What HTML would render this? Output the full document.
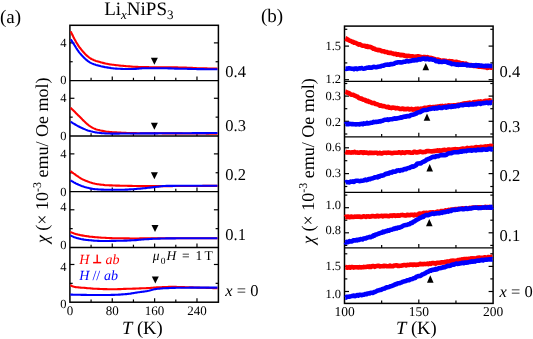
<!DOCTYPE html>
<html><head><meta charset="utf-8"><title>LixNiPS3</title><style>
html,body{margin:0;padding:0;background:#fff;width:533px;height:339px;overflow:hidden;}
svg{display:block;will-change:transform;}
text{font-family:"Liberation Serif",serif;fill:#000;text-rendering:geometricPrecision;}
</style></head><body>
<svg width="533" height="339" viewBox="0 0 533 339">
<rect x="69.90" y="25.30" width="148.50" height="276.90" fill="none" stroke="#000" stroke-width="1.5"/>
<line x1="69.90" y1="80.60" x2="218.40" y2="80.60" stroke="#000" stroke-width="1.3"/>
<line x1="69.90" y1="136.00" x2="218.40" y2="136.00" stroke="#000" stroke-width="1.3"/>
<line x1="69.90" y1="191.60" x2="218.40" y2="191.60" stroke="#000" stroke-width="1.3"/>
<line x1="69.90" y1="247.50" x2="218.40" y2="247.50" stroke="#000" stroke-width="1.3"/>
<line x1="91.08" y1="80.60" x2="91.08" y2="77.80" stroke="#000" stroke-width="1.2"/>
<line x1="112.26" y1="80.60" x2="112.26" y2="76.60" stroke="#000" stroke-width="1.2"/>
<line x1="133.44" y1="80.60" x2="133.44" y2="77.80" stroke="#000" stroke-width="1.2"/>
<line x1="154.62" y1="80.60" x2="154.62" y2="76.60" stroke="#000" stroke-width="1.2"/>
<line x1="175.80" y1="80.60" x2="175.80" y2="77.80" stroke="#000" stroke-width="1.2"/>
<line x1="196.98" y1="80.60" x2="196.98" y2="76.60" stroke="#000" stroke-width="1.2"/>
<line x1="69.90" y1="61.74" x2="72.70" y2="61.74" stroke="#000" stroke-width="1.2"/>
<line x1="218.40" y1="61.74" x2="215.60" y2="61.74" stroke="#000" stroke-width="1.2"/>
<line x1="69.90" y1="42.88" x2="74.40" y2="42.88" stroke="#000" stroke-width="1.2"/>
<line x1="218.40" y1="42.88" x2="213.90" y2="42.88" stroke="#000" stroke-width="1.2"/>
<line x1="91.08" y1="136.00" x2="91.08" y2="133.20" stroke="#000" stroke-width="1.2"/>
<line x1="112.26" y1="136.00" x2="112.26" y2="132.00" stroke="#000" stroke-width="1.2"/>
<line x1="133.44" y1="136.00" x2="133.44" y2="133.20" stroke="#000" stroke-width="1.2"/>
<line x1="154.62" y1="136.00" x2="154.62" y2="132.00" stroke="#000" stroke-width="1.2"/>
<line x1="175.80" y1="136.00" x2="175.80" y2="133.20" stroke="#000" stroke-width="1.2"/>
<line x1="196.98" y1="136.00" x2="196.98" y2="132.00" stroke="#000" stroke-width="1.2"/>
<line x1="69.90" y1="117.14" x2="72.70" y2="117.14" stroke="#000" stroke-width="1.2"/>
<line x1="218.40" y1="117.14" x2="215.60" y2="117.14" stroke="#000" stroke-width="1.2"/>
<line x1="69.90" y1="98.28" x2="74.40" y2="98.28" stroke="#000" stroke-width="1.2"/>
<line x1="218.40" y1="98.28" x2="213.90" y2="98.28" stroke="#000" stroke-width="1.2"/>
<line x1="91.08" y1="191.60" x2="91.08" y2="188.80" stroke="#000" stroke-width="1.2"/>
<line x1="112.26" y1="191.60" x2="112.26" y2="187.60" stroke="#000" stroke-width="1.2"/>
<line x1="133.44" y1="191.60" x2="133.44" y2="188.80" stroke="#000" stroke-width="1.2"/>
<line x1="154.62" y1="191.60" x2="154.62" y2="187.60" stroke="#000" stroke-width="1.2"/>
<line x1="175.80" y1="191.60" x2="175.80" y2="188.80" stroke="#000" stroke-width="1.2"/>
<line x1="196.98" y1="191.60" x2="196.98" y2="187.60" stroke="#000" stroke-width="1.2"/>
<line x1="69.90" y1="172.74" x2="72.70" y2="172.74" stroke="#000" stroke-width="1.2"/>
<line x1="218.40" y1="172.74" x2="215.60" y2="172.74" stroke="#000" stroke-width="1.2"/>
<line x1="69.90" y1="153.88" x2="74.40" y2="153.88" stroke="#000" stroke-width="1.2"/>
<line x1="218.40" y1="153.88" x2="213.90" y2="153.88" stroke="#000" stroke-width="1.2"/>
<line x1="91.08" y1="247.50" x2="91.08" y2="244.70" stroke="#000" stroke-width="1.2"/>
<line x1="112.26" y1="247.50" x2="112.26" y2="243.50" stroke="#000" stroke-width="1.2"/>
<line x1="133.44" y1="247.50" x2="133.44" y2="244.70" stroke="#000" stroke-width="1.2"/>
<line x1="154.62" y1="247.50" x2="154.62" y2="243.50" stroke="#000" stroke-width="1.2"/>
<line x1="175.80" y1="247.50" x2="175.80" y2="244.70" stroke="#000" stroke-width="1.2"/>
<line x1="196.98" y1="247.50" x2="196.98" y2="243.50" stroke="#000" stroke-width="1.2"/>
<line x1="69.90" y1="228.64" x2="72.70" y2="228.64" stroke="#000" stroke-width="1.2"/>
<line x1="218.40" y1="228.64" x2="215.60" y2="228.64" stroke="#000" stroke-width="1.2"/>
<line x1="69.90" y1="209.78" x2="74.40" y2="209.78" stroke="#000" stroke-width="1.2"/>
<line x1="218.40" y1="209.78" x2="213.90" y2="209.78" stroke="#000" stroke-width="1.2"/>
<line x1="91.08" y1="302.20" x2="91.08" y2="299.40" stroke="#000" stroke-width="1.2"/>
<line x1="112.26" y1="302.20" x2="112.26" y2="298.20" stroke="#000" stroke-width="1.2"/>
<line x1="133.44" y1="302.20" x2="133.44" y2="299.40" stroke="#000" stroke-width="1.2"/>
<line x1="154.62" y1="302.20" x2="154.62" y2="298.20" stroke="#000" stroke-width="1.2"/>
<line x1="175.80" y1="302.20" x2="175.80" y2="299.40" stroke="#000" stroke-width="1.2"/>
<line x1="196.98" y1="302.20" x2="196.98" y2="298.20" stroke="#000" stroke-width="1.2"/>
<line x1="69.90" y1="283.34" x2="72.70" y2="283.34" stroke="#000" stroke-width="1.2"/>
<line x1="218.40" y1="283.34" x2="215.60" y2="283.34" stroke="#000" stroke-width="1.2"/>
<line x1="69.90" y1="264.48" x2="74.40" y2="264.48" stroke="#000" stroke-width="1.2"/>
<line x1="218.40" y1="264.48" x2="213.90" y2="264.48" stroke="#000" stroke-width="1.2"/>
<polyline points="70.7,31.4 71.0,32.0 71.3,32.7 71.8,33.6 72.2,34.6 72.8,35.6 73.3,36.7 73.8,37.7 74.3,38.7 74.8,39.6 75.4,40.6 75.9,41.6 76.4,42.6 77.0,43.5 77.6,44.4 78.2,45.4 78.8,46.3 79.4,47.2 80.1,48.0 80.8,48.9 81.5,49.8 82.2,50.7 82.9,51.5 83.6,52.3 84.3,53.1 85.1,53.9 85.9,54.7 86.6,55.4 87.4,56.1 88.2,56.7 88.9,57.3 89.7,57.9 90.6,58.5 91.4,59.0 92.3,59.4 93.2,59.8 94.1,60.2 95.1,60.6 96.0,60.9 97.0,61.2 98.0,61.5 99.0,61.8 100.0,62.1 101.0,62.4 101.9,62.6 102.9,62.9 104.0,63.1 105.0,63.4 105.9,63.6 107.0,63.8 108.0,64.0 109.1,64.2 110.1,64.4 111.2,64.5 112.3,64.7 113.5,64.8 114.8,65.0 115.7,65.1 116.7,65.2 117.8,65.3 118.9,65.5 120.0,65.6 121.1,65.7 122.2,65.8 123.4,65.9 124.5,66.0 125.5,66.1 126.6,66.2 127.6,66.3 128.7,66.4 129.7,66.4 130.8,66.5 131.9,66.6 132.9,66.7 134.0,66.7 135.0,66.8 136.0,66.9 136.9,66.9 137.7,66.9 138.6,67.0 139.4,67.0 140.3,67.0 141.3,67.0 142.4,67.1 143.6,67.1 145.0,67.1 145.8,67.1 146.6,67.1 147.5,67.1 148.4,67.1 149.3,67.2 150.3,67.2 151.3,67.2 152.3,67.2 153.3,67.2 154.4,67.2 155.4,67.2 156.5,67.2 157.6,67.2 158.7,67.2 159.8,67.2 160.8,67.3 161.9,67.3 163.0,67.3 164.0,67.3 165.0,67.3 166.0,67.3 167.0,67.3 168.0,67.3 169.1,67.3 170.1,67.4 171.2,67.4 172.2,67.4 173.2,67.4 174.3,67.4 175.3,67.4 176.3,67.4 177.4,67.4 178.4,67.5 179.4,67.5 180.4,67.5 181.3,67.5 182.3,67.5 183.2,67.6 184.1,67.6 185.0,67.6 186.1,67.6 187.2,67.7 188.3,67.7 189.3,67.8 190.3,67.8 191.2,67.9 192.2,67.9 193.1,68.0 194.1,68.0 195.0,68.1 196.0,68.1 196.9,68.2 197.9,68.2 198.9,68.3 200.0,68.3 201.0,68.3 202.1,68.4 203.2,68.4 204.3,68.4 205.5,68.4 206.7,68.4 207.9,68.5 209.1,68.5 210.3,68.5 211.4,68.5 212.5,68.5 213.6,68.5 214.5,68.6 215.4,68.6 216.2,68.6 216.9,68.6 217.5,68.6" fill="none" stroke="#ff0000" stroke-width="2.1" stroke-linejoin="round" stroke-linecap="butt"/>
<polyline points="70.7,39.3 71.1,39.9 71.6,40.7 72.2,41.6 72.8,42.6 73.5,43.7 74.2,44.7 74.8,45.7 75.4,46.6 75.9,47.5 76.4,48.3 77.0,49.2 77.6,50.1 78.2,50.9 78.8,51.8 79.4,52.6 80.1,53.4 80.8,54.2 81.5,55.0 82.2,55.7 82.9,56.5 83.6,57.2 84.3,57.9 85.2,58.8 86.1,59.6 87.0,60.3 87.9,61.1 88.8,61.7 89.7,62.3 90.8,62.9 91.8,63.4 92.8,63.8 93.9,64.2 95.1,64.6 96.0,64.9 97.0,65.2 98.0,65.4 99.0,65.7 100.0,65.9 101.0,66.2 101.9,66.4 102.9,66.6 104.0,66.9 105.0,67.1 105.9,67.2 107.0,67.4 108.0,67.6 109.1,67.8 110.1,67.9 111.2,68.1 112.3,68.2 113.5,68.4 114.8,68.5 115.7,68.6 116.7,68.6 117.8,68.7 118.9,68.8 120.0,68.8 121.1,68.9 122.2,68.9 123.4,69.0 124.5,69.0 125.5,69.0 126.6,69.0 127.6,69.0 128.7,69.0 129.7,69.0 130.8,69.0 131.9,69.0 132.9,69.0 134.0,68.9 135.0,68.9 136.0,68.9 136.9,68.8 137.7,68.7 138.6,68.6 139.4,68.5 140.3,68.5 141.3,68.4 142.4,68.3 143.6,68.2 145.0,68.2 145.8,68.2 146.6,68.2 147.5,68.2 148.4,68.2 149.4,68.2 150.4,68.2 151.5,68.2 152.5,68.2 153.6,68.2 154.7,68.2 155.8,68.2 156.9,68.2 158.0,68.2 159.1,68.2 160.1,68.2 161.2,68.2 162.2,68.3 163.2,68.3 164.1,68.3 165.0,68.3 166.1,68.3 167.2,68.3 168.2,68.4 169.2,68.4 170.2,68.4 171.1,68.4 172.0,68.5 173.0,68.5 173.9,68.5 174.8,68.6 175.8,68.6 176.8,68.6 177.8,68.6 178.9,68.7 180.0,68.7 180.9,68.7 181.8,68.7 182.8,68.8 183.7,68.8 184.7,68.8 185.7,68.8 186.7,68.8 187.8,68.9 188.8,68.9 189.8,68.9 190.9,68.9 191.9,69.0 193.0,69.0 194.0,69.0 195.1,69.0 196.1,69.0 197.1,69.1 198.1,69.1 199.1,69.1 200.0,69.1 201.1,69.1 202.3,69.1 203.5,69.1 204.7,69.2 205.9,69.2 207.1,69.2 208.3,69.2 209.4,69.2 210.6,69.2 211.7,69.2 212.7,69.3 213.7,69.3 214.6,69.3 215.5,69.3 216.3,69.3 216.9,69.3 217.5,69.3" fill="none" stroke="#0000ff" stroke-width="2.1" stroke-linejoin="round" stroke-linecap="butt"/>
<polyline points="70.6,107.7 71.1,108.2 71.8,108.9 72.6,109.7 73.4,110.5 74.2,111.3 75.0,112.1 75.8,112.9 76.6,113.7 77.4,114.5 78.3,115.4 79.0,116.1 79.7,116.8 80.5,117.6 81.2,118.3 82.0,119.1 82.7,119.9 83.5,120.6 84.2,121.3 85.0,122.0 85.7,122.7 86.5,123.4 87.2,124.1 88.0,124.7 88.7,125.3 89.7,126.0 90.7,126.7 91.8,127.3 92.8,127.9 93.8,128.4 94.8,128.8 95.7,129.2 96.6,129.5 97.7,129.8 99.0,130.1 99.8,130.3 100.7,130.5 101.6,130.7 102.6,130.9 103.6,131.1 104.6,131.3 105.7,131.5 106.8,131.7 108.0,131.8 108.9,131.9 109.7,132.0 110.6,132.1 111.5,132.1 112.4,132.2 113.3,132.3 114.3,132.3 115.3,132.4 116.4,132.4 117.5,132.5 118.7,132.5 120.0,132.6 120.8,132.6 121.4,132.7 122.0,132.7 122.6,132.7 123.1,132.8 123.6,132.8 124.1,132.8 124.7,132.9 125.3,132.9 125.9,132.9 126.6,133.0 127.5,133.0 128.4,133.0 129.5,133.0 130.8,133.1 132.2,133.1 133.8,133.1 135.6,133.1 137.7,133.2 140.0,133.2 140.6,133.2 141.3,133.2 142.0,133.2 142.8,133.2 143.6,133.2 144.4,133.2 145.2,133.2 146.0,133.3 146.9,133.3 147.8,133.3 148.7,133.3 149.7,133.3 150.6,133.3 151.6,133.3 152.7,133.3 153.7,133.3 154.7,133.3 155.8,133.3 156.9,133.3 158.0,133.3 159.1,133.3 160.2,133.3 161.4,133.3 162.5,133.4 163.7,133.4 164.8,133.4 166.0,133.4 167.2,133.4 168.4,133.4 169.6,133.4 170.8,133.4 172.0,133.4 173.3,133.4 174.5,133.4 175.7,133.4 176.9,133.4 178.2,133.4 179.4,133.4 180.6,133.4 181.8,133.4 183.1,133.5 184.3,133.5 185.5,133.5 186.7,133.5 187.9,133.5 189.1,133.5 190.3,133.5 191.4,133.5 192.6,133.5 193.8,133.5 194.9,133.5 196.0,133.5 197.1,133.5 198.2,133.5 199.3,133.5 200.4,133.5 201.4,133.5 202.5,133.5 203.5,133.5 204.5,133.5 205.5,133.5 206.4,133.6 207.3,133.6 208.3,133.6 209.1,133.6 210.0,133.6 210.8,133.6 211.6,133.6 212.4,133.6 213.1,133.6 213.9,133.6 214.6,133.6 215.2,133.6 215.8,133.6 216.4,133.6 217.0,133.6 217.5,133.6" fill="none" stroke="#ff0000" stroke-width="2.1" stroke-linejoin="round" stroke-linecap="butt"/>
<polyline points="70.6,121.6 71.2,122.0 72.1,122.6 73.2,123.3 74.2,123.9 75.2,124.5 76.2,125.1 77.2,125.7 78.3,126.3 79.3,126.8 80.3,127.3 81.4,127.8 82.4,128.2 83.5,128.7 84.5,129.1 85.6,129.6 86.6,130.0 87.7,130.4 88.7,130.7 89.7,131.0 90.7,131.3 91.8,131.5 92.8,131.8 93.8,132.0 94.8,132.2 95.7,132.4 96.6,132.5 97.7,132.7 99.0,132.8 99.8,132.9 100.5,133.0 101.2,133.1 102.0,133.2 102.9,133.2 103.9,133.3 105.1,133.4 106.4,133.5 108.0,133.5 108.7,133.5 109.3,133.5 109.8,133.5 110.3,133.5 110.8,133.6 111.3,133.6 111.8,133.6 112.3,133.6 112.8,133.6 113.4,133.6 114.1,133.6 114.8,133.6 115.7,133.6 116.6,133.6 117.7,133.6 118.9,133.6 120.3,133.5 121.8,133.5 123.6,133.5 125.5,133.5 127.6,133.5 130.0,133.5 130.6,133.5 131.3,133.5 132.0,133.5 132.7,133.5 133.5,133.5 134.3,133.5 135.1,133.5 135.9,133.5 136.7,133.5 137.6,133.5 138.5,133.5 139.4,133.5 140.4,133.4 141.3,133.4 142.3,133.4 143.3,133.4 144.3,133.4 145.3,133.4 146.4,133.4 147.4,133.4 148.5,133.4 149.6,133.4 150.7,133.4 151.8,133.4 152.9,133.4 154.1,133.4 155.2,133.4 156.4,133.4 157.6,133.4 158.7,133.3 159.9,133.3 161.1,133.3 162.3,133.3 163.5,133.3 164.7,133.3 165.9,133.3 167.2,133.3 168.4,133.3 169.6,133.3 170.8,133.3 172.1,133.3 173.3,133.3 174.5,133.3 175.7,133.2 177.0,133.2 178.2,133.2 179.4,133.2 180.6,133.2 181.8,133.2 183.0,133.2 184.2,133.2 185.4,133.2 186.6,133.2 187.8,133.2 188.9,133.2 190.1,133.2 191.3,133.2 192.4,133.1 193.5,133.1 194.6,133.1 195.7,133.1 196.8,133.1 197.9,133.1 198.9,133.1 200.0,133.1 201.0,133.1 202.0,133.1 203.0,133.1 204.0,133.1 204.9,133.1 205.9,133.1 206.8,133.1 207.7,133.1 208.5,133.1 209.4,133.0 210.2,133.0 211.0,133.0 211.8,133.0 212.5,133.0 213.2,133.0 213.9,133.0 214.6,133.0 215.2,133.0 215.9,133.0 216.4,133.0 217.0,133.0 217.5,133.0" fill="none" stroke="#0000ff" stroke-width="2.1" stroke-linejoin="round" stroke-linecap="butt"/>
<polyline points="70.5,171.2 71.1,171.6 71.8,172.2 72.8,172.8 73.7,173.5 74.6,174.1 75.4,174.7 76.2,175.3 77.1,175.9 77.9,176.4 78.7,177.0 79.7,177.7 80.7,178.3 81.7,178.9 82.9,179.5 83.8,179.9 84.7,180.3 85.7,180.7 86.6,181.1 87.7,181.5 88.7,181.9 89.7,182.3 90.8,182.6 91.9,182.9 93.0,183.3 94.1,183.5 95.3,183.8 96.3,184.0 97.4,184.2 98.5,184.3 99.6,184.5 100.7,184.6 101.7,184.7 102.7,184.8 103.6,184.9 104.2,185.0 104.8,185.1 105.9,185.2 108.0,185.3 108.7,185.3 109.4,185.4 110.2,185.4 111.0,185.4 111.9,185.4 112.8,185.5 113.8,185.5 114.9,185.5 115.9,185.6 117.0,185.6 118.1,185.6 119.2,185.6 120.3,185.7 121.4,185.7 122.6,185.7 123.7,185.8 124.8,185.8 125.9,185.8 127.0,185.8 128.0,185.9 129.0,185.9 130.0,185.9 131.0,185.9 131.9,185.9 132.7,186.0 133.4,186.0 134.0,186.0 134.7,186.0 135.3,186.0 135.9,186.0 136.5,186.0 137.2,186.0 137.9,186.1 138.7,186.1 139.6,186.1 140.6,186.1 141.7,186.1 143.0,186.1 144.4,186.1 146.1,186.1 147.9,186.1 150.0,186.1 150.7,186.1 151.4,186.1 152.1,186.1 152.9,186.1 153.7,186.1 154.5,186.1 155.4,186.1 156.3,186.1 157.2,186.1 158.1,186.1 159.1,186.1 160.1,186.1 161.1,186.1 162.2,186.1 163.2,186.1 164.3,186.1 165.4,186.1 166.5,186.1 167.6,186.1 168.8,186.1 169.9,186.1 171.1,186.1 172.3,186.1 173.5,186.0 174.6,186.0 175.9,186.0 177.1,186.0 178.3,186.0 179.5,186.0 180.7,186.0 181.9,186.0 183.2,186.0 184.4,186.0 185.6,186.0 186.8,186.0 188.0,186.0 189.3,186.0 190.5,186.0 191.7,186.0 192.8,186.0 194.0,186.0 195.2,186.0 196.3,186.0 197.5,186.0 198.6,186.0 199.7,186.0 200.8,186.0 201.9,186.0 203.0,185.9 204.0,185.9 205.0,185.9 206.0,185.9 207.0,185.9 207.9,185.9 208.9,185.9 209.8,185.9 210.6,185.9 211.5,185.9 212.3,185.9 213.0,185.9 213.8,185.9 214.5,185.9 215.2,185.9 215.8,185.9 216.4,185.9 217.0,185.9 217.5,185.9" fill="none" stroke="#ff0000" stroke-width="2.1" stroke-linejoin="round" stroke-linecap="butt"/>
<polyline points="70.5,180.3 71.2,180.8 72.3,181.4 73.5,182.2 74.6,182.8 75.6,183.3 76.5,183.8 77.6,184.3 78.7,184.8 79.6,185.1 80.5,185.5 81.4,185.9 82.4,186.2 83.5,186.6 84.5,186.9 85.6,187.2 86.6,187.5 87.7,187.8 88.9,188.1 90.0,188.4 91.1,188.6 92.2,188.8 93.2,189.0 94.2,189.1 95.3,189.2 96.5,189.3 97.8,189.4 98.6,189.5 99.5,189.5 100.3,189.5 101.2,189.6 102.2,189.6 103.2,189.6 104.2,189.7 105.4,189.7 106.6,189.7 108.0,189.7 108.8,189.7 109.7,189.7 110.6,189.7 111.6,189.7 112.6,189.7 113.6,189.7 114.6,189.7 115.7,189.7 116.8,189.7 117.9,189.7 119.0,189.7 120.1,189.7 121.2,189.7 122.2,189.7 123.3,189.7 124.4,189.7 125.4,189.6 126.4,189.6 127.4,189.6 128.5,189.5 129.5,189.4 130.6,189.4 131.6,189.3 132.6,189.2 133.6,189.2 134.7,189.1 135.7,189.0 136.7,188.9 137.7,188.8 138.7,188.7 139.6,188.7 140.6,188.6 141.6,188.5 142.6,188.4 143.5,188.3 144.6,188.2 145.6,188.1 146.7,188.0 147.8,187.8 148.8,187.7 149.9,187.6 150.9,187.5 151.9,187.4 152.9,187.2 153.9,187.1 154.9,187.0 155.8,186.9 156.7,186.8 157.6,186.7 158.5,186.6 159.6,186.5 160.3,186.4 160.8,186.3 161.3,186.2 161.8,186.2 162.4,186.1 163.4,186.0 164.7,186.0 166.6,185.9 169.2,185.9 169.8,185.9 170.5,185.9 171.3,185.9 172.1,185.9 172.9,185.9 173.8,185.9 174.7,185.9 175.6,185.8 176.6,185.8 177.6,185.8 178.7,185.8 179.8,185.8 180.9,185.8 182.0,185.8 183.1,185.8 184.3,185.8 185.5,185.8 186.7,185.8 187.9,185.8 189.1,185.8 190.3,185.8 191.6,185.8 192.8,185.8 194.0,185.8 195.2,185.8 196.5,185.8 197.7,185.8 198.9,185.8 200.1,185.8 201.3,185.8 202.4,185.8 203.6,185.8 204.7,185.8 205.8,185.8 206.9,185.8 207.9,185.8 209.0,185.8 209.9,185.8 210.9,185.8 211.8,185.8 212.7,185.8 213.5,185.8 214.3,185.8 215.0,185.8 215.7,185.8 216.4,185.8 217.0,185.8 217.5,185.8" fill="none" stroke="#0000ff" stroke-width="2.1" stroke-linejoin="round" stroke-linecap="butt"/>
<polyline points="70.3,232.0 71.0,232.3 71.9,232.6 73.0,233.1 74.2,233.5 75.5,233.9 76.5,234.2 77.5,234.4 78.6,234.7 79.7,234.9 80.8,235.2 81.9,235.4 83.0,235.6 84.1,235.8 85.1,236.0 86.2,236.1 87.3,236.3 88.4,236.4 89.4,236.6 90.5,236.7 91.5,236.8 92.6,236.9 93.6,237.0 94.6,237.1 95.7,237.2 96.8,237.3 98.0,237.4 98.9,237.5 99.8,237.5 100.8,237.6 101.7,237.7 102.7,237.7 103.7,237.8 104.8,237.8 105.8,237.9 106.9,238.0 108.0,238.0 108.9,238.0 109.8,238.1 110.7,238.1 111.7,238.1 112.6,238.2 113.6,238.2 114.5,238.2 115.6,238.2 116.6,238.2 117.7,238.3 118.8,238.3 120.0,238.3 120.9,238.3 121.8,238.3 122.8,238.3 123.7,238.4 124.8,238.4 125.8,238.4 126.8,238.4 127.9,238.4 129.0,238.4 130.0,238.5 131.1,238.5 132.1,238.5 133.2,238.5 134.2,238.5 135.2,238.5 136.1,238.5 137.0,238.5 138.0,238.5 138.7,238.5 139.2,238.5 139.5,238.4 139.8,238.4 140.1,238.4 140.6,238.3 141.2,238.3 142.1,238.3 143.4,238.3 145.0,238.2 147.2,238.2 150.0,238.2 150.6,238.2 151.3,238.2 152.0,238.2 152.7,238.2 153.5,238.2 154.3,238.2 155.1,238.2 156.0,238.2 156.9,238.2 157.8,238.2 158.7,238.2 159.7,238.2 160.7,238.2 161.7,238.2 162.7,238.2 163.8,238.2 164.9,238.2 166.0,238.2 167.1,238.2 168.3,238.2 169.4,238.2 170.6,238.2 171.7,238.2 172.9,238.2 174.1,238.2 175.3,238.2 176.6,238.2 177.8,238.2 179.0,238.2 180.2,238.2 181.5,238.2 182.7,238.2 183.9,238.2 185.2,238.2 186.4,238.2 187.6,238.2 188.9,238.2 190.1,238.2 191.3,238.2 192.5,238.2 193.7,238.2 194.9,238.2 196.1,238.2 197.2,238.2 198.4,238.2 199.5,238.2 200.6,238.2 201.7,238.2 202.8,238.2 203.8,238.2 204.9,238.2 205.9,238.2 206.9,238.2 207.8,238.2 208.8,238.2 209.7,238.2 210.6,238.2 211.4,238.2 212.2,238.2 213.0,238.2 213.8,238.2 214.5,238.2 215.2,238.2 215.8,238.2 216.4,238.2 217.0,238.2 217.5,238.2" fill="none" stroke="#ff0000" stroke-width="2.1" stroke-linejoin="round" stroke-linecap="butt"/>
<polyline points="70.3,235.4 71.0,235.7 71.9,236.1 73.0,236.6 74.2,237.2 75.5,237.6 76.5,237.9 77.5,238.2 78.6,238.4 79.7,238.7 80.8,239.0 81.9,239.2 83.0,239.4 84.1,239.6 85.1,239.7 86.2,239.9 87.3,240.0 88.4,240.1 89.4,240.2 90.5,240.3 91.5,240.4 92.6,240.5 93.6,240.6 94.6,240.7 95.7,240.8 96.8,240.8 98.0,240.9 98.8,240.9 99.6,241.0 100.4,241.0 101.2,241.0 102.0,241.0 103.0,241.0 104.0,241.0 105.1,241.0 106.5,241.0 108.0,241.0 108.8,241.0 109.6,241.0 110.5,241.0 111.4,240.9 112.4,240.9 113.4,240.9 114.5,240.9 115.6,240.9 116.7,240.8 117.8,240.8 118.9,240.8 120.0,240.8 121.2,240.7 122.3,240.7 123.5,240.7 124.6,240.6 125.7,240.6 126.7,240.6 127.8,240.5 128.8,240.5 129.8,240.4 130.7,240.4 131.8,240.3 132.9,240.3 134.0,240.2 135.0,240.1 136.0,240.1 137.0,240.0 137.9,239.9 138.9,239.8 139.8,239.7 140.7,239.6 141.7,239.5 142.6,239.5 143.6,239.4 144.6,239.3 145.6,239.2 146.7,239.2 147.8,239.1 148.7,239.1 149.6,239.0 150.4,239.0 151.2,238.9 152.0,238.9 152.8,238.8 153.6,238.8 154.4,238.8 155.3,238.7 156.1,238.7 157.0,238.7 157.9,238.6 158.9,238.6 159.9,238.6 161.0,238.5 162.2,238.5 163.4,238.5 164.7,238.5 166.1,238.4 167.6,238.4 169.2,238.4 169.9,238.4 170.7,238.4 171.6,238.4 172.4,238.4 173.3,238.4 174.3,238.4 175.3,238.4 176.3,238.3 177.3,238.3 178.3,238.3 179.4,238.3 180.5,238.3 181.6,238.3 182.8,238.3 183.9,238.3 185.1,238.3 186.3,238.3 187.5,238.3 188.7,238.3 189.9,238.3 191.1,238.3 192.3,238.3 193.5,238.3 194.7,238.3 195.9,238.3 197.1,238.3 198.3,238.3 199.4,238.3 200.6,238.3 201.7,238.3 202.9,238.3 204.0,238.3 205.1,238.3 206.1,238.3 207.2,238.3 208.2,238.3 209.2,238.3 210.1,238.3 211.0,238.3 211.9,238.3 212.8,238.3 213.6,238.3 214.4,238.3 215.1,238.3 215.8,238.3 216.4,238.3 217.0,238.3 217.5,238.3" fill="none" stroke="#0000ff" stroke-width="2.1" stroke-linejoin="round" stroke-linecap="butt"/>
<polyline points="70.3,285.1 71.0,285.5 71.9,286.0 73.2,286.6 74.8,287.0 75.6,287.1 76.4,287.2 77.4,287.3 78.4,287.4 79.4,287.5 80.5,287.6 81.6,287.7 82.7,287.7 83.8,287.8 84.9,287.9 85.9,288.0 86.8,288.1 87.7,288.2 88.7,288.2 89.6,288.3 90.6,288.4 91.6,288.5 92.7,288.6 93.8,288.7 95.0,288.7 96.2,288.8 97.1,288.8 98.0,288.9 99.0,288.9 100.1,289.0 101.1,289.0 102.2,289.0 103.3,289.1 104.4,289.1 105.5,289.1 106.6,289.1 107.7,289.2 108.8,289.2 109.9,289.2 110.9,289.2 112.0,289.2 113.0,289.2 114.0,289.2 115.1,289.2 116.0,289.2 117.0,289.2 118.0,289.1 118.9,289.1 119.9,289.1 120.8,289.1 121.8,289.0 122.7,289.0 123.7,288.9 124.7,288.9 125.8,288.9 126.9,288.8 128.0,288.8 128.9,288.8 129.9,288.7 130.9,288.7 132.0,288.7 133.0,288.6 134.1,288.6 135.2,288.6 136.3,288.5 137.4,288.5 138.5,288.5 139.6,288.4 140.7,288.4 141.8,288.3 142.8,288.3 143.9,288.3 144.8,288.2 145.8,288.2 146.7,288.1 147.5,288.1 148.8,288.0 150.0,288.0 151.1,287.9 152.1,287.8 153.0,287.7 153.9,287.6 154.8,287.6 155.7,287.5 156.7,287.4 157.7,287.4 158.8,287.3 159.7,287.3 160.7,287.2 161.6,287.2 162.5,287.1 163.5,287.1 164.5,287.0 165.5,287.0 166.5,287.0 167.5,287.0 168.6,286.9 169.7,286.9 170.9,286.9 172.1,286.9 173.4,286.9 174.3,286.9 175.2,286.9 176.1,286.9 177.1,287.0 178.0,287.0 179.0,287.0 180.0,287.0 181.1,287.1 182.1,287.1 183.2,287.1 184.2,287.1 185.3,287.2 186.4,287.2 187.5,287.3 188.6,287.3 189.6,287.3 190.7,287.4 191.8,287.4 192.9,287.4 193.9,287.5 195.0,287.5 196.0,287.5 197.1,287.6 198.2,287.6 199.3,287.6 200.5,287.7 201.7,287.7 202.9,287.7 204.1,287.8 205.3,287.8 206.4,287.9 207.6,287.9 208.7,287.9 209.9,288.0 210.9,288.0 212.0,288.0 213.0,288.1 213.9,288.1 214.8,288.1 215.6,288.1 216.3,288.2 216.9,288.2 217.5,288.2" fill="none" stroke="#ff0000" stroke-width="2.1" stroke-linejoin="round" stroke-linecap="butt"/>
<polyline points="70.3,294.6 70.9,294.6 71.5,294.6 72.2,294.6 73.0,294.7 73.9,294.7 74.8,294.7 75.8,294.7 76.8,294.8 77.9,294.8 79.0,294.8 80.1,294.8 81.3,294.9 82.5,294.9 83.6,294.9 84.8,294.9 86.0,294.9 87.2,295.0 88.3,295.0 89.4,295.0 90.5,295.0 91.5,295.0 92.5,295.0 93.5,295.0 94.6,295.0 95.6,295.0 96.7,295.0 97.7,295.0 98.8,295.0 99.9,295.0 101.0,295.0 102.1,295.0 103.2,295.0 104.2,295.0 105.3,295.0 106.3,295.0 107.3,295.0 108.3,295.0 109.3,295.0 110.3,295.0 111.2,294.9 112.1,294.9 113.0,294.9 114.2,294.9 115.4,294.8 116.6,294.8 117.7,294.7 118.8,294.6 119.9,294.6 120.9,294.5 121.9,294.4 122.8,294.4 123.8,294.3 124.7,294.2 125.5,294.1 126.4,294.1 127.2,294.0 128.0,293.9 129.3,293.8 130.5,293.6 131.5,293.4 132.4,293.3 133.3,293.1 134.2,293.0 135.2,292.8 136.3,292.6 137.2,292.5 138.2,292.3 139.3,292.2 140.3,292.0 141.4,291.9 142.5,291.8 143.6,291.6 144.7,291.5 145.7,291.3 146.6,291.2 147.5,291.0 148.7,290.8 149.7,290.5 150.7,290.2 151.5,290.0 152.4,289.7 153.3,289.5 154.3,289.3 155.3,289.1 156.4,289.0 157.4,288.8 158.5,288.7 159.7,288.6 160.9,288.5 162.2,288.4 163.1,288.3 163.9,288.3 164.7,288.2 165.6,288.2 166.5,288.1 167.4,288.1 168.4,288.1 169.5,288.0 170.7,288.0 172.0,287.9 173.4,287.9 174.2,287.9 175.0,287.9 175.9,287.8 176.9,287.8 177.8,287.8 178.8,287.8 179.8,287.8 180.8,287.8 181.9,287.7 183.0,287.7 184.0,287.7 185.1,287.7 186.2,287.7 187.3,287.7 188.5,287.7 189.6,287.6 190.7,287.6 191.8,287.6 192.9,287.6 193.9,287.6 195.0,287.6 196.0,287.6 197.1,287.6 198.2,287.6 199.3,287.6 200.5,287.6 201.7,287.6 202.9,287.6 204.1,287.6 205.3,287.6 206.4,287.6 207.6,287.6 208.7,287.6 209.9,287.6 210.9,287.6 212.0,287.6 213.0,287.6 213.9,287.6 214.8,287.6 215.6,287.6 216.3,287.6 216.9,287.6 217.5,287.6" fill="none" stroke="#0000ff" stroke-width="2.1" stroke-linejoin="round" stroke-linecap="butt"/>
<path d="M150.90 57.70L157.90 57.70L154.40 64.70Z" fill="#000"/>
<path d="M150.90 122.70L157.90 122.70L154.40 129.70Z" fill="#000"/>
<path d="M150.90 172.20L157.90 172.20L154.40 179.20Z" fill="#000"/>
<path d="M151.50 225.10L158.50 225.10L155.00 232.10Z" fill="#000"/>
<path d="M151.80 276.50L158.80 276.50L155.30 283.50Z" fill="#000"/>
<rect x="344.50" y="26.10" width="148.60" height="277.30" fill="none" stroke="#000" stroke-width="1.5"/>
<line x1="344.50" y1="81.30" x2="493.10" y2="81.30" stroke="#000" stroke-width="1.3"/>
<line x1="344.50" y1="136.80" x2="493.10" y2="136.80" stroke="#000" stroke-width="1.3"/>
<line x1="344.50" y1="192.40" x2="493.10" y2="192.40" stroke="#000" stroke-width="1.3"/>
<line x1="344.50" y1="247.90" x2="493.10" y2="247.90" stroke="#000" stroke-width="1.3"/>
<line x1="381.65" y1="81.30" x2="381.65" y2="78.50" stroke="#000" stroke-width="1.2"/>
<line x1="418.80" y1="81.30" x2="418.80" y2="77.30" stroke="#000" stroke-width="1.2"/>
<line x1="455.95" y1="81.30" x2="455.95" y2="78.50" stroke="#000" stroke-width="1.2"/>
<line x1="381.65" y1="136.80" x2="381.65" y2="134.00" stroke="#000" stroke-width="1.2"/>
<line x1="418.80" y1="136.80" x2="418.80" y2="132.80" stroke="#000" stroke-width="1.2"/>
<line x1="455.95" y1="136.80" x2="455.95" y2="134.00" stroke="#000" stroke-width="1.2"/>
<line x1="381.65" y1="192.40" x2="381.65" y2="189.60" stroke="#000" stroke-width="1.2"/>
<line x1="418.80" y1="192.40" x2="418.80" y2="188.40" stroke="#000" stroke-width="1.2"/>
<line x1="455.95" y1="192.40" x2="455.95" y2="189.60" stroke="#000" stroke-width="1.2"/>
<line x1="381.65" y1="247.90" x2="381.65" y2="245.10" stroke="#000" stroke-width="1.2"/>
<line x1="418.80" y1="247.90" x2="418.80" y2="243.90" stroke="#000" stroke-width="1.2"/>
<line x1="455.95" y1="247.90" x2="455.95" y2="245.10" stroke="#000" stroke-width="1.2"/>
<line x1="381.65" y1="303.40" x2="381.65" y2="300.60" stroke="#000" stroke-width="1.2"/>
<line x1="418.80" y1="303.40" x2="418.80" y2="299.40" stroke="#000" stroke-width="1.2"/>
<line x1="455.95" y1="303.40" x2="455.95" y2="300.60" stroke="#000" stroke-width="1.2"/>
<line x1="344.50" y1="29.30" x2="347.30" y2="29.30" stroke="#000" stroke-width="1.2"/>
<line x1="493.10" y1="29.30" x2="490.30" y2="29.30" stroke="#000" stroke-width="1.2"/>
<line x1="344.50" y1="46.10" x2="349.00" y2="46.10" stroke="#000" stroke-width="1.2"/>
<line x1="493.10" y1="46.10" x2="488.60" y2="46.10" stroke="#000" stroke-width="1.2"/>
<line x1="344.50" y1="62.90" x2="347.30" y2="62.90" stroke="#000" stroke-width="1.2"/>
<line x1="493.10" y1="62.90" x2="490.30" y2="62.90" stroke="#000" stroke-width="1.2"/>
<line x1="344.50" y1="79.70" x2="349.00" y2="79.70" stroke="#000" stroke-width="1.2"/>
<line x1="493.10" y1="79.70" x2="488.60" y2="79.70" stroke="#000" stroke-width="1.2"/>
<line x1="344.50" y1="83.50" x2="347.30" y2="83.50" stroke="#000" stroke-width="1.2"/>
<line x1="493.10" y1="83.50" x2="490.30" y2="83.50" stroke="#000" stroke-width="1.2"/>
<line x1="344.50" y1="96.10" x2="349.00" y2="96.10" stroke="#000" stroke-width="1.2"/>
<line x1="493.10" y1="96.10" x2="488.60" y2="96.10" stroke="#000" stroke-width="1.2"/>
<line x1="344.50" y1="108.70" x2="347.30" y2="108.70" stroke="#000" stroke-width="1.2"/>
<line x1="493.10" y1="108.70" x2="490.30" y2="108.70" stroke="#000" stroke-width="1.2"/>
<line x1="344.50" y1="121.30" x2="349.00" y2="121.30" stroke="#000" stroke-width="1.2"/>
<line x1="493.10" y1="121.30" x2="488.60" y2="121.30" stroke="#000" stroke-width="1.2"/>
<line x1="344.50" y1="134.00" x2="347.30" y2="134.00" stroke="#000" stroke-width="1.2"/>
<line x1="493.10" y1="134.00" x2="490.30" y2="134.00" stroke="#000" stroke-width="1.2"/>
<line x1="344.50" y1="147.80" x2="349.00" y2="147.80" stroke="#000" stroke-width="1.2"/>
<line x1="493.10" y1="147.80" x2="488.60" y2="147.80" stroke="#000" stroke-width="1.2"/>
<line x1="344.50" y1="160.70" x2="347.30" y2="160.70" stroke="#000" stroke-width="1.2"/>
<line x1="493.10" y1="160.70" x2="490.30" y2="160.70" stroke="#000" stroke-width="1.2"/>
<line x1="344.50" y1="173.60" x2="349.00" y2="173.60" stroke="#000" stroke-width="1.2"/>
<line x1="493.10" y1="173.60" x2="488.60" y2="173.60" stroke="#000" stroke-width="1.2"/>
<line x1="344.50" y1="186.50" x2="347.30" y2="186.50" stroke="#000" stroke-width="1.2"/>
<line x1="493.10" y1="186.50" x2="490.30" y2="186.50" stroke="#000" stroke-width="1.2"/>
<line x1="344.50" y1="195.10" x2="347.30" y2="195.10" stroke="#000" stroke-width="1.2"/>
<line x1="493.10" y1="195.10" x2="490.30" y2="195.10" stroke="#000" stroke-width="1.2"/>
<line x1="344.50" y1="207.70" x2="349.00" y2="207.70" stroke="#000" stroke-width="1.2"/>
<line x1="493.10" y1="207.70" x2="488.60" y2="207.70" stroke="#000" stroke-width="1.2"/>
<line x1="344.50" y1="220.20" x2="347.30" y2="220.20" stroke="#000" stroke-width="1.2"/>
<line x1="493.10" y1="220.20" x2="490.30" y2="220.20" stroke="#000" stroke-width="1.2"/>
<line x1="344.50" y1="232.80" x2="349.00" y2="232.80" stroke="#000" stroke-width="1.2"/>
<line x1="493.10" y1="232.80" x2="488.60" y2="232.80" stroke="#000" stroke-width="1.2"/>
<line x1="344.50" y1="245.40" x2="347.30" y2="245.40" stroke="#000" stroke-width="1.2"/>
<line x1="493.10" y1="245.40" x2="490.30" y2="245.40" stroke="#000" stroke-width="1.2"/>
<line x1="344.50" y1="253.80" x2="347.30" y2="253.80" stroke="#000" stroke-width="1.2"/>
<line x1="493.10" y1="253.80" x2="490.30" y2="253.80" stroke="#000" stroke-width="1.2"/>
<line x1="344.50" y1="266.40" x2="349.00" y2="266.40" stroke="#000" stroke-width="1.2"/>
<line x1="493.10" y1="266.40" x2="488.60" y2="266.40" stroke="#000" stroke-width="1.2"/>
<line x1="344.50" y1="278.90" x2="347.30" y2="278.90" stroke="#000" stroke-width="1.2"/>
<line x1="493.10" y1="278.90" x2="490.30" y2="278.90" stroke="#000" stroke-width="1.2"/>
<line x1="344.50" y1="291.50" x2="349.00" y2="291.50" stroke="#000" stroke-width="1.2"/>
<line x1="493.10" y1="291.50" x2="488.60" y2="291.50" stroke="#000" stroke-width="1.2"/>
<polyline points="345.3,38.2 345.9,38.4 346.8,39.4 347.8,39.4 348.9,40.4 350.1,40.8 351.2,41.1 352.1,41.9 353.1,41.9 354.1,42.7 355.1,42.7 356.2,43.1 357.3,43.8 358.6,44.6 359.5,44.2 360.5,44.6 361.5,45.2 362.6,45.8 363.7,45.7 364.9,45.8 366.0,46.6 367.1,46.0 368.1,47.0 369.1,46.8 370.0,46.9 371.2,47.3 372.3,47.8 373.3,48.7 374.3,48.5 375.2,49.3 376.2,49.7 377.2,49.8 378.1,50.2 379.1,50.0 380.1,50.3 381.1,50.7 382.0,51.3 383.0,51.3 384.0,51.4 385.0,51.9 386.1,52.0 387.2,52.1 388.2,52.8 389.3,52.9 390.4,52.7 391.6,53.2 392.8,53.4 393.8,53.9 394.8,54.0 395.9,53.9 396.9,54.7 398.0,54.2 399.1,54.6 400.3,55.2 401.4,54.8 402.5,55.3 403.5,55.0 404.6,55.7 405.6,55.9 406.7,55.8 407.7,56.2 408.8,55.8 409.9,56.2 410.9,56.2 412.0,56.3 413.0,56.3 414.1,56.7 415.3,56.8 416.4,56.5 417.5,56.7 418.6,56.2 419.7,56.8 420.8,56.9 421.8,57.2 422.8,57.2 424.0,56.9 425.2,57.1 426.3,57.5 427.3,57.1 428.4,57.7 429.4,57.7 430.5,57.9 431.5,58.0 432.4,58.9 433.3,58.6 434.3,58.9 435.3,59.3 436.5,60.0 438.0,59.5 438.8,60.0 439.7,60.2 440.6,60.6 441.6,60.7 442.6,60.9 443.7,60.5 444.8,60.7 445.9,60.8 447.0,61.4 448.1,61.6 449.2,61.0 450.2,61.2 451.2,61.3 452.1,61.4 453.0,61.8 454.3,62.1 455.6,61.9 456.7,61.9 457.9,62.4 458.9,62.5 459.9,62.9 460.9,63.4 461.9,63.3 462.8,63.3 463.9,63.6 465.0,63.9 465.9,63.6 466.8,64.6 467.8,64.7 468.8,65.1 470.0,65.3 470.9,65.1 471.8,65.3 472.8,65.3 473.8,66.0 474.9,65.7 475.9,66.0 477.0,66.3 478.1,66.5 479.2,66.8 480.3,66.7 481.3,66.8 482.3,67.0 483.5,67.0 484.6,67.3 485.8,67.1 486.9,67.9 488.1,67.7 489.1,67.4 490.1,67.5 491.0,67.6 491.7,67.6 492.3,67.5" fill="none" stroke="#ff0000" stroke-width="4.6" stroke-linejoin="round" stroke-linecap="butt"/>
<polyline points="345.3,68.7 346.0,68.9 346.9,68.5 348.0,68.6 349.2,68.3 350.4,68.5 351.7,68.7 352.8,68.7 353.9,69.2 354.9,68.6 356.0,68.4 357.1,69.1 358.2,68.7 359.2,68.3 360.3,68.5 361.4,68.0 362.4,68.4 363.5,68.7 364.6,68.5 365.7,68.2 366.7,67.7 367.8,67.7 368.9,67.4 369.9,67.8 371.0,67.5 372.1,67.6 373.1,67.0 374.2,66.8 375.3,67.2 376.4,67.2 377.4,66.9 378.5,66.8 379.5,66.6 380.6,66.4 381.8,65.8 383.0,65.8 383.9,65.5 384.8,65.0 385.8,64.8 386.8,64.8 387.8,64.5 388.8,64.7 389.8,64.7 390.8,64.0 391.8,64.2 392.8,64.0 393.9,63.8 394.9,63.1 396.0,62.7 397.1,62.6 398.1,62.3 399.2,62.2 400.3,62.4 401.4,62.4 402.5,62.2 403.5,61.7 404.6,61.7 405.6,61.7 406.7,60.9 407.7,61.3 408.8,61.4 409.9,61.1 410.9,60.9 412.0,60.5 413.0,60.1 414.0,60.5 415.1,59.9 416.1,60.2 417.2,60.1 418.2,59.4 419.2,59.3 420.2,59.6 421.2,59.3 422.1,58.7 423.0,58.6 424.2,58.5 425.3,59.2 426.4,59.1 427.4,58.5 428.4,59.2 429.5,59.5 430.5,59.3 431.6,59.3 432.6,59.8 433.7,59.7 434.8,60.0 435.9,61.2 436.9,61.2 438.0,61.3 439.1,61.9 440.1,61.5 441.2,62.0 442.3,62.0 443.4,61.5 444.4,61.6 445.5,61.8 446.6,62.0 447.6,62.6 448.6,62.6 449.6,63.1 450.7,63.1 451.8,64.1 453.0,63.9 454.0,64.1 455.1,64.3 456.2,64.7 457.3,64.4 458.5,64.9 459.6,64.6 460.7,64.7 461.8,64.8 462.8,64.4 463.9,64.8 465.0,64.7 466.0,64.6 466.9,65.4 467.9,64.9 468.9,65.2 470.1,65.5 471.0,65.4 471.9,65.2 472.9,65.4 473.9,65.5 474.9,65.7 476.0,65.1 477.0,65.6 478.1,65.3 479.2,65.4 480.3,65.8 481.3,65.6 482.3,65.7 483.5,65.9 484.6,66.1 485.8,65.7 486.9,65.9 488.1,65.9 489.1,65.9 490.1,66.1 491.0,65.9 491.7,66.0 492.3,66.0" fill="none" stroke="#0000ff" stroke-width="4.6" stroke-linejoin="round" stroke-linecap="butt"/>
<polyline points="345.3,91.7 345.9,91.8 346.6,92.3 347.5,92.8 348.5,92.7 349.5,93.5 350.7,94.3 351.8,94.8 352.9,94.7 353.8,95.1 354.7,95.8 355.7,95.9 356.7,96.5 357.7,96.8 358.7,97.8 359.8,98.3 360.8,98.8 361.8,98.6 362.8,99.5 363.8,99.8 364.8,99.7 365.9,100.8 366.9,101.2 367.9,100.9 368.9,101.9 369.9,101.7 370.9,102.2 371.8,102.9 372.7,103.1 373.9,102.9 374.9,103.6 375.9,104.1 376.9,104.3 377.8,104.5 378.9,105.0 380.0,105.7 381.0,105.3 381.9,106.0 383.0,106.2 384.0,106.0 385.1,106.5 386.2,107.0 387.3,107.1 388.3,106.8 389.4,107.8 390.5,107.8 391.5,108.1 392.6,107.5 393.6,107.8 394.7,107.7 395.7,108.4 396.8,108.1 397.8,108.1 398.9,108.4 399.9,109.0 401.0,109.0 402.0,108.6 403.1,108.6 404.1,109.3 405.1,109.1 406.2,109.3 407.2,108.8 408.3,108.8 409.4,109.4 410.4,109.2 411.5,108.9 412.6,109.7 413.7,109.4 414.8,109.5 415.9,108.8 416.9,109.5 418.0,108.7 419.0,109.3 419.9,108.9 420.8,108.6 421.7,108.7 422.6,108.9 423.6,108.1 424.7,107.8 425.9,108.0 427.4,107.6 428.2,107.4 429.1,107.3 430.1,107.1 431.1,107.2 432.2,107.2 433.3,107.0 434.4,107.3 435.6,106.8 436.7,106.9 437.9,106.5 439.1,106.5 440.2,106.1 441.3,106.2 442.4,105.9 443.5,106.5 444.5,106.2 445.4,105.8 446.3,106.0 447.6,106.3 448.7,105.4 449.8,105.9 450.8,105.5 451.7,105.5 452.6,105.7 453.4,105.2 454.4,105.2 455.3,105.3 456.4,105.4 457.6,104.7 458.5,105.0 459.4,104.7 460.3,104.5 461.3,104.2 462.3,104.0 463.3,103.6 464.3,103.5 465.3,103.3 466.4,103.7 467.4,103.1 468.5,102.9 469.6,102.6 470.6,103.1 471.7,103.0 472.8,102.7 473.9,102.2 474.9,102.0 476.0,102.0 477.1,102.0 478.2,101.6 479.4,101.7 480.6,101.4 481.8,101.9 482.9,101.8 484.1,101.3 485.3,100.9 486.4,101.4 487.5,100.7 488.5,100.7 489.4,100.3 490.3,100.5 491.1,100.5 491.7,100.5 492.3,100.1" fill="none" stroke="#ff0000" stroke-width="4.6" stroke-linejoin="round" stroke-linecap="butt"/>
<polyline points="345.3,124.4 345.9,123.9 346.6,124.2 347.3,124.0 348.2,124.3 349.2,123.9 350.2,123.9 351.3,124.1 352.4,124.0 353.6,124.3 354.7,124.3 355.9,124.4 357.1,124.3 358.3,124.3 359.5,124.4 360.6,123.9 361.7,123.7 362.8,124.2 363.8,123.4 364.9,123.8 366.0,123.6 367.0,122.9 368.1,123.4 369.2,123.3 370.3,122.9 371.4,122.8 372.4,122.7 373.5,121.9 374.5,122.1 375.5,121.9 376.5,122.0 377.4,121.8 378.3,121.7 379.2,121.3 380.0,121.5 381.4,121.0 382.6,120.8 383.7,120.2 384.7,119.8 385.6,119.7 386.5,119.8 387.5,119.4 388.4,119.9 389.4,119.5 390.5,119.3 391.5,119.2 392.6,119.1 393.6,118.8 394.7,118.2 395.7,118.8 396.8,118.6 397.8,118.2 398.9,118.0 399.9,118.0 401.0,117.2 402.0,117.6 403.1,117.0 404.1,116.6 405.1,116.6 406.2,116.7 407.2,116.0 408.3,116.2 409.3,116.2 410.3,115.4 411.3,115.0 412.4,114.7 413.4,114.6 414.5,114.3 415.4,113.8 416.4,113.5 417.2,112.7 418.0,112.5 419.3,112.1 420.2,112.1 421.1,111.4 421.8,111.3 422.7,110.5 423.8,110.1 424.7,110.0 425.9,110.0 427.4,109.7 428.2,109.5 429.2,109.0 430.2,109.0 431.3,108.8 432.4,108.6 433.6,108.1 434.7,108.6 435.8,107.9 436.9,108.4 437.9,108.3 439.0,107.4 440.0,107.7 441.0,107.9 442.0,108.0 443.0,107.4 444.1,107.2 445.2,107.1 446.3,107.6 447.2,106.8 448.2,107.1 449.1,106.5 450.1,106.8 451.0,107.0 452.0,106.2 453.0,106.7 454.1,106.2 455.2,106.4 456.4,106.1 457.6,105.6 458.5,106.1 459.4,105.6 460.3,105.1 461.3,104.9 462.3,105.2 463.3,105.1 464.3,104.8 465.3,104.6 466.4,104.6 467.4,104.5 468.5,104.9 469.6,104.0 470.6,104.5 471.7,104.5 472.8,103.8 473.9,104.4 474.9,104.1 476.0,104.2 477.1,103.5 478.2,103.5 479.4,103.4 480.6,103.9 481.8,103.4 482.9,103.1 484.1,103.1 485.3,102.9 486.4,102.6 487.5,102.6 488.5,103.2 489.4,102.6 490.3,103.1 491.1,102.5 491.7,102.4 492.3,102.6" fill="none" stroke="#0000ff" stroke-width="4.6" stroke-linejoin="round" stroke-linecap="butt"/>
<polyline points="345.3,151.7 345.9,151.9 346.6,152.5 347.4,152.4 348.2,152.4 349.2,152.3 350.2,152.5 351.3,152.6 352.5,152.3 353.6,152.5 354.8,151.9 356.0,152.6 357.2,152.4 358.4,152.7 359.6,152.6 360.7,152.3 361.8,152.2 362.9,153.0 363.9,152.3 364.9,152.6 365.9,152.6 366.9,152.6 367.9,153.0 368.9,153.2 369.8,152.6 370.8,153.0 371.8,152.8 372.8,153.0 373.8,152.9 374.8,152.7 375.8,152.7 376.8,152.8 377.9,153.4 378.9,153.1 380.0,152.8 380.9,153.5 381.9,153.5 382.9,153.0 383.8,152.8 384.8,152.8 385.8,152.7 386.9,152.9 387.9,152.6 388.9,152.8 389.9,152.8 391.0,153.0 392.0,153.3 393.0,153.1 394.1,152.8 395.1,152.8 396.1,152.8 397.1,152.7 398.1,152.6 399.0,152.3 400.0,152.5 401.0,153.1 402.1,152.3 403.1,152.6 404.1,152.7 405.1,152.9 406.1,152.3 407.1,152.3 408.0,152.3 409.0,152.4 410.0,152.4 411.0,152.8 412.0,152.7 412.9,152.7 413.9,151.9 414.9,151.8 415.9,152.4 417.0,152.5 418.0,152.1 419.0,152.1 420.0,151.5 421.0,151.8 422.1,152.2 423.1,152.1 424.1,152.0 425.2,152.0 426.3,151.3 427.3,151.1 428.4,151.0 429.4,151.3 430.5,151.3 431.5,151.5 432.6,151.2 433.6,151.0 434.6,151.1 435.6,150.7 436.6,150.7 437.6,150.2 438.7,150.8 439.7,150.2 440.8,150.8 441.8,150.5 442.9,150.1 443.9,149.9 444.9,149.9 445.9,150.2 446.9,150.2 447.9,149.6 448.9,149.5 449.9,149.9 450.9,149.9 451.9,149.6 453.0,149.4 454.0,149.7 455.0,149.1 456.0,149.2 457.1,149.3 458.1,149.7 459.1,149.3 460.1,149.4 461.1,148.9 462.2,148.6 463.2,148.5 464.2,149.1 465.3,148.7 466.3,148.3 467.3,147.9 468.4,148.2 469.5,148.3 470.5,147.9 471.6,147.7 472.7,148.0 473.7,148.1 474.8,147.4 475.9,147.1 477.0,147.3 478.2,147.2 479.4,147.3 480.6,146.8 481.8,147.2 483.0,147.1 484.2,146.7 485.3,146.4 486.4,147.0 487.5,146.3 488.5,146.6 489.4,146.0 490.3,145.9 491.1,146.3 491.7,145.9 492.3,146.4" fill="none" stroke="#ff0000" stroke-width="4.6" stroke-linejoin="round" stroke-linecap="butt"/>
<polyline points="345.3,182.5 345.9,182.2 346.6,182.1 347.4,182.2 348.4,182.3 349.4,182.4 350.5,181.6 351.7,181.7 352.8,181.4 354.0,181.9 355.2,181.0 356.3,180.8 357.3,180.7 358.2,180.8 359.3,181.2 360.3,181.0 361.4,180.7 362.4,180.8 363.5,180.6 364.6,179.9 365.6,179.6 366.6,180.2 367.7,179.8 368.6,179.0 369.6,179.3 370.7,178.8 371.7,178.6 372.7,178.3 373.7,177.9 374.7,177.4 375.7,177.4 376.6,177.1 377.6,177.4 378.5,176.3 379.5,176.7 380.5,175.7 381.5,175.5 382.5,175.6 383.5,175.3 384.6,174.6 385.6,173.8 386.6,173.9 387.6,173.4 388.7,173.6 389.7,172.6 390.8,172.4 391.8,172.6 392.8,171.5 393.8,171.6 394.8,171.7 395.8,171.5 396.8,170.6 397.8,170.4 398.8,170.2 399.8,170.8 400.8,170.0 401.8,170.2 402.7,170.1 403.6,169.4 404.8,169.0 405.9,169.3 407.1,168.6 408.2,168.0 409.3,168.0 410.3,167.3 411.3,167.0 412.2,166.4 413.0,166.7 414.3,166.3 415.3,165.5 416.2,165.2 417.1,163.8 418.0,163.6 419.0,163.4 420.1,163.5 421.1,163.2 422.2,162.3 423.2,161.8 424.1,161.5 424.9,161.0 425.7,160.8 426.6,159.5 427.4,159.5 428.3,159.0 429.3,158.6 430.1,158.2 431.0,157.8 432.1,157.2 433.5,156.8 434.3,156.7 435.2,156.9 436.2,156.1 437.2,156.0 438.3,156.3 439.4,155.6 440.5,155.3 441.6,155.0 442.7,155.3 443.8,154.8 444.8,155.2 445.7,154.9 446.6,154.7 447.5,153.8 448.5,153.4 449.4,153.2 450.4,153.3 451.5,153.2 452.6,152.7 453.7,152.3 455.0,152.2 455.9,152.3 456.8,152.2 457.7,152.1 458.7,152.1 459.7,151.8 460.7,151.2 461.7,151.7 462.8,151.1 463.9,151.2 465.0,150.9 466.1,151.1 467.2,150.6 468.3,150.5 469.4,150.4 470.5,150.2 471.6,150.7 472.7,150.4 473.7,150.1 474.8,150.0 475.9,150.5 477.0,149.9 478.2,149.6 479.4,150.0 480.6,149.8 481.8,150.0 483.0,149.2 484.2,149.4 485.3,149.6 486.4,149.6 487.5,149.6 488.5,148.7 489.4,148.9 490.3,148.7 491.1,148.7 491.7,149.4 492.3,149.0" fill="none" stroke="#0000ff" stroke-width="4.6" stroke-linejoin="round" stroke-linecap="butt"/>
<polyline points="345.3,217.2 345.9,216.7 346.6,217.1 347.3,216.8 348.2,216.6 349.1,217.1 350.2,217.2 351.2,216.5 352.3,216.9 353.5,217.0 354.7,216.6 355.9,216.7 357.1,216.5 358.3,216.6 359.4,216.6 360.6,216.9 361.7,217.0 362.8,216.5 363.8,216.3 364.8,216.6 365.8,216.9 366.8,216.4 367.8,216.5 368.8,216.4 369.8,216.8 370.8,216.6 371.8,216.1 372.8,216.1 373.8,216.3 374.8,216.4 375.9,216.4 376.9,215.9 377.9,215.9 378.9,216.4 380.0,216.1 381.0,215.9 382.0,215.9 383.0,216.4 384.0,215.8 385.0,216.0 386.0,215.8 387.1,215.8 388.1,216.2 389.1,216.2 390.2,215.6 391.2,215.5 392.2,215.9 393.2,215.4 394.2,215.2 395.2,215.9 396.2,215.5 397.2,215.8 398.1,215.4 399.1,215.8 400.0,215.4 401.2,215.1 402.3,214.9 403.5,215.3 404.6,215.4 405.8,215.6 406.9,214.8 408.1,215.2 409.1,215.0 410.2,215.1 411.2,214.7 412.2,214.8 413.1,215.0 413.9,215.3 414.7,214.5 415.4,214.8 417.2,214.9 418.2,214.7 418.9,213.8 420.0,213.5 420.9,214.1 421.8,213.9 422.9,213.3 423.9,212.8 425.1,213.5 426.2,212.8 427.4,213.2 428.3,212.8 429.2,212.9 430.1,212.3 431.0,212.8 432.0,212.2 433.0,212.3 434.2,212.6 435.5,212.5 436.9,211.7 437.7,211.6 438.5,211.7 439.4,211.7 440.3,211.4 441.3,211.0 442.3,211.0 443.3,211.2 444.3,211.2 445.4,210.3 446.4,210.6 447.5,210.6 448.6,209.8 449.7,210.3 450.8,209.5 451.8,209.8 452.9,209.6 454.0,209.5 455.0,209.1 456.0,209.1 457.1,209.2 458.1,208.9 459.2,209.0 460.2,208.8 461.3,208.7 462.3,208.2 463.4,208.7 464.4,208.5 465.5,208.2 466.5,208.6 467.6,208.5 468.7,208.2 469.7,207.9 470.8,208.1 471.8,207.7 472.9,207.6 473.9,207.8 475.0,207.5 476.1,207.7 477.2,207.7 478.4,207.2 479.6,207.7 480.8,207.2 481.9,207.7 483.1,207.7 484.3,207.4 485.4,206.9 486.5,207.3 487.5,207.1 488.5,207.6 489.5,206.8 490.3,207.4 491.1,207.5 491.7,207.2 492.3,207.3" fill="none" stroke="#ff0000" stroke-width="4.6" stroke-linejoin="round" stroke-linecap="butt"/>
<polyline points="345.3,241.9 345.9,242.5 346.6,241.9 347.5,242.2 348.5,242.0 349.6,241.1 350.7,241.5 351.9,241.4 353.1,240.4 354.3,240.4 355.4,240.5 356.4,239.8 357.3,240.3 358.3,239.6 359.3,239.9 360.4,239.1 361.4,239.3 362.5,239.4 363.5,238.6 364.6,238.4 365.7,238.4 366.7,237.9 367.8,237.4 368.7,237.2 369.7,236.9 370.6,237.2 371.6,236.6 372.6,236.4 373.5,235.4 374.5,235.6 375.5,234.5 376.4,234.5 377.4,234.2 378.3,233.6 379.2,233.7 380.1,233.1 381.0,232.8 382.1,232.7 383.1,231.7 384.1,232.1 385.1,231.5 386.0,231.0 387.0,231.1 387.9,230.4 388.8,230.8 389.8,230.1 390.8,229.7 391.8,229.7 392.8,229.2 393.7,228.6 394.7,228.9 395.7,228.0 396.8,228.4 397.8,227.6 398.8,227.6 399.8,227.6 400.8,227.0 401.8,226.7 402.7,226.1 403.6,225.6 404.7,225.2 405.7,225.0 406.7,225.0 407.7,224.5 408.7,224.2 409.6,224.2 410.5,223.2 411.4,222.9 412.2,222.9 413.0,222.0 414.0,221.4 414.9,221.2 415.7,220.4 416.4,220.1 417.2,219.4 418.0,219.2 419.0,218.7 419.8,217.9 420.7,217.9 421.6,217.3 422.5,216.6 423.5,216.9 424.4,215.8 425.4,215.4 426.4,215.0 427.4,215.1 428.4,215.1 429.4,214.7 430.5,214.2 431.6,213.9 432.6,213.5 433.7,213.9 434.8,213.7 435.8,213.3 436.9,213.4 438.0,213.1 439.0,213.4 440.1,213.0 441.1,212.5 442.2,212.9 443.2,212.0 444.3,212.3 445.3,212.0 446.3,211.7 447.4,211.3 448.3,211.7 449.2,210.7 450.1,210.9 451.0,211.0 452.1,210.0 453.4,209.8 455.0,209.9 455.8,209.7 456.7,209.7 457.6,209.8 458.5,209.1 459.5,209.1 460.6,209.0 461.6,208.7 462.7,209.3 463.8,209.1 465.0,209.0 466.1,208.2 467.3,208.9 468.4,208.7 469.5,208.4 470.7,208.5 471.8,208.2 472.8,207.9 473.9,207.7 475.0,207.8 476.1,207.5 477.2,207.7 478.4,208.1 479.6,207.9 480.8,208.0 481.9,207.8 483.1,207.4 484.3,207.6 485.4,207.4 486.5,207.7 487.5,207.4 488.5,207.2 489.5,207.5 490.3,207.7 491.1,207.0 491.7,207.6 492.3,206.8" fill="none" stroke="#0000ff" stroke-width="4.6" stroke-linejoin="round" stroke-linecap="butt"/>
<polyline points="345.3,267.1 345.9,267.1 346.6,267.5 347.4,267.7 348.2,267.5 349.2,267.1 350.2,267.6 351.3,267.1 352.5,267.0 353.6,267.6 354.8,267.3 356.0,267.3 357.2,267.3 358.4,267.5 359.6,267.1 360.7,267.4 361.8,267.2 362.9,267.3 363.9,266.9 364.9,267.1 365.9,266.9 366.9,266.7 367.9,266.5 368.9,266.9 369.8,266.3 370.8,267.0 371.8,266.3 372.8,266.1 373.8,266.1 374.8,266.8 375.8,266.2 376.8,266.0 377.9,265.9 378.9,265.8 380.0,266.4 380.9,266.3 381.9,266.3 382.9,266.3 383.8,265.7 384.8,266.1 385.8,265.9 386.9,266.3 387.9,266.3 388.9,266.3 389.9,265.5 391.0,266.2 392.0,266.2 393.0,266.2 394.1,265.5 395.1,265.5 396.1,265.4 397.1,265.3 398.1,266.0 399.0,265.9 400.0,265.7 401.0,265.8 402.1,265.6 403.1,265.2 404.1,265.0 405.1,265.0 406.1,265.5 407.1,264.9 408.1,265.0 409.1,265.0 410.0,264.5 411.0,264.7 412.0,264.6 413.0,265.0 414.0,264.6 415.0,264.5 416.0,265.0 417.0,264.5 418.0,264.7 419.0,264.4 420.1,263.8 421.1,264.1 422.2,264.1 423.2,264.3 424.3,263.9 425.3,264.1 426.4,263.9 427.4,263.6 428.5,264.1 429.6,263.3 430.6,263.9 431.7,263.3 432.7,263.0 433.8,263.1 434.8,263.5 435.9,263.6 436.9,262.7 437.9,263.0 438.9,262.9 440.0,263.0 441.0,262.3 442.0,262.5 443.0,262.2 444.0,262.5 445.0,261.8 445.9,262.3 446.9,261.6 447.9,261.4 448.9,261.6 449.9,261.3 450.9,260.8 451.9,261.1 453.0,260.5 454.0,261.0 455.0,260.8 456.0,260.7 457.0,260.5 457.9,260.1 458.9,260.0 459.9,259.9 460.9,260.2 461.9,259.3 462.9,259.9 463.9,259.0 464.9,259.0 465.9,259.0 466.9,259.4 467.9,258.9 468.9,258.7 469.9,259.1 470.9,258.4 471.9,258.5 472.9,258.4 473.9,258.5 475.0,258.4 476.1,258.2 477.2,257.9 478.4,257.8 479.6,257.5 480.8,258.1 481.9,257.8 483.1,257.8 484.3,257.3 485.4,257.4 486.5,257.7 487.5,257.4 488.5,257.0 489.5,257.2 490.3,257.6 491.1,256.9 491.7,256.9 492.3,256.9" fill="none" stroke="#ff0000" stroke-width="4.6" stroke-linejoin="round" stroke-linecap="butt"/>
<polyline points="345.3,297.7 345.9,297.7 346.6,296.9 347.4,296.8 348.4,296.7 349.4,296.6 350.5,296.5 351.7,296.0 352.8,295.9 354.0,295.6 355.2,296.1 356.3,295.7 357.3,295.0 358.2,295.6 359.3,294.7 360.3,294.8 361.4,295.2 362.4,294.9 363.5,294.8 364.6,294.3 365.6,294.0 366.6,294.2 367.7,293.6 368.6,293.4 369.6,293.4 370.7,292.8 371.7,292.8 372.7,292.9 373.7,292.4 374.7,291.9 375.7,291.7 376.6,291.1 377.6,290.5 378.5,290.5 379.5,290.0 380.5,289.9 381.5,289.7 382.5,288.9 383.5,288.7 384.6,288.5 385.6,287.8 386.6,287.3 387.6,287.4 388.7,287.1 389.7,286.7 390.8,286.2 391.8,286.0 392.8,285.5 393.8,285.1 394.8,284.6 395.8,284.1 396.8,284.1 397.8,283.2 398.8,283.2 399.8,283.1 400.8,282.7 401.8,282.3 402.7,281.7 403.6,281.5 404.8,281.2 405.9,281.0 407.1,280.4 408.2,280.3 409.3,280.2 410.3,279.2 411.3,279.3 412.2,279.1 413.0,278.5 414.3,278.1 415.3,278.0 416.2,276.7 417.1,276.7 418.0,276.0 419.2,276.1 420.4,275.9 421.5,275.1 422.7,274.2 423.6,274.2 424.6,273.5 425.5,273.1 426.5,272.3 427.4,271.9 428.3,271.7 429.1,271.0 429.9,270.6 430.9,270.8 432.2,269.7 433.0,270.0 433.9,269.5 434.8,269.7 435.8,268.9 436.9,269.5 438.0,268.7 439.2,268.2 440.4,268.1 441.6,267.9 442.5,267.3 443.4,267.4 444.3,267.2 445.2,267.1 446.2,266.5 447.2,266.1 448.2,265.7 449.3,265.9 450.3,265.8 451.5,265.1 452.6,264.5 453.8,264.7 455.0,264.1 455.9,263.8 456.8,263.5 457.7,263.9 458.6,263.8 459.6,263.5 460.6,263.2 461.6,263.1 462.6,262.7 463.6,263.2 464.7,262.5 465.7,262.6 466.7,262.6 467.8,262.5 468.8,262.1 469.9,261.8 470.9,261.9 471.9,261.3 472.9,261.8 473.9,261.3 475.0,261.6 476.1,260.9 477.2,260.8 478.4,260.6 479.6,260.6 480.8,260.2 481.9,259.9 483.1,260.4 484.3,259.8 485.4,259.7 486.5,259.6 487.5,259.6 488.5,259.4 489.5,259.5 490.3,259.4 491.1,259.0 491.7,259.5 492.3,259.3" fill="none" stroke="#0000ff" stroke-width="4.6" stroke-linejoin="round" stroke-linecap="butt"/>
<path d="M422.50 70.30L429.10 70.30L425.80 62.90Z" fill="#000"/>
<path d="M423.70 120.80L430.30 120.80L427.00 113.40Z" fill="#000"/>
<path d="M426.40 171.50L433.00 171.50L429.70 164.10Z" fill="#000"/>
<path d="M426.00 226.30L432.60 226.30L429.30 218.90Z" fill="#000"/>
<path d="M427.00 282.70L433.60 282.70L430.30 275.30Z" fill="#000"/>
<text x="0.00" y="22.60" font-size="19" text-anchor="start">(a)</text>
<text x="261.00" y="22.40" font-size="19" text-anchor="start">(b)</text>
<text x="138.80" y="14.60" font-size="19" text-anchor="middle">Li<tspan font-style="italic" font-size="13" dy="4">x</tspan><tspan dy="-4">NiPS</tspan><tspan font-size="13" dy="4">3</tspan></text>
<text x="66.60" y="84.42" font-size="12.5" text-anchor="end">0</text>
<text x="66.60" y="139.72" font-size="12.5" text-anchor="end">0</text>
<text x="66.60" y="195.53" font-size="12.5" text-anchor="end">0</text>
<text x="66.60" y="248.62" font-size="12.5" text-anchor="end">0</text>
<text x="66.60" y="307.73" font-size="12.5" text-anchor="end">0</text>
<text x="66.60" y="47.02" font-size="12.5" text-anchor="end">4</text>
<text x="66.60" y="102.27" font-size="12.5" text-anchor="end">4</text>
<text x="66.60" y="157.92" font-size="12.5" text-anchor="end">4</text>
<text x="66.60" y="211.42" font-size="12.5" text-anchor="end">4</text>
<text x="66.60" y="270.53" font-size="12.5" text-anchor="end">4</text>
<text x="69.90" y="315.00" font-size="13" text-anchor="middle">0</text>
<text x="112.26" y="315.00" font-size="13" text-anchor="middle">80</text>
<text x="154.62" y="315.00" font-size="13" text-anchor="middle">160</text>
<text x="196.98" y="315.00" font-size="13" text-anchor="middle">240</text>
<text x="225.30" y="76.60" font-size="16.5" text-anchor="start">0.4</text>
<text x="225.30" y="130.90" font-size="16.5" text-anchor="start">0.3</text>
<text x="225.30" y="179.70" font-size="16.5" text-anchor="start">0.2</text>
<text x="225.30" y="239.70" font-size="16.5" text-anchor="start">0.1</text>
<text x="225.30" y="296.40" font-size="16.5" text-anchor="start"><tspan font-style="italic">x</tspan> = 0</text>
<text x="499.60" y="77.20" font-size="16.5" text-anchor="start">0.4</text>
<text x="499.60" y="132.00" font-size="16.5" text-anchor="start">0.3</text>
<text x="499.60" y="180.90" font-size="16.5" text-anchor="start">0.2</text>
<text x="499.60" y="240.70" font-size="16.5" text-anchor="start">0.1</text>
<text x="499.60" y="297.40" font-size="16.5" text-anchor="start"><tspan font-style="italic">x</tspan> = 0</text>
<text x="341.00" y="49.73" font-size="12.5" text-anchor="end">1.5</text>
<text x="341.00" y="82.92" font-size="12.5" text-anchor="end">1.2</text>
<text x="341.00" y="99.72" font-size="12.5" text-anchor="end">0.3</text>
<text x="341.00" y="125.92" font-size="12.5" text-anchor="end">0.2</text>
<text x="341.00" y="150.92" font-size="12.5" text-anchor="end">0.6</text>
<text x="341.00" y="177.03" font-size="12.5" text-anchor="end">0.3</text>
<text x="341.00" y="209.12" font-size="12.5" text-anchor="end">1.0</text>
<text x="341.00" y="233.82" font-size="12.5" text-anchor="end">0.8</text>
<text x="341.00" y="269.93" font-size="12.5" text-anchor="end">1.5</text>
<text x="341.00" y="297.83" font-size="12.5" text-anchor="end">1.0</text>
<text x="344.50" y="316.00" font-size="13.5" text-anchor="middle">100</text>
<text x="418.80" y="316.00" font-size="13.5" text-anchor="middle">150</text>
<text x="493.10" y="316.00" font-size="13.5" text-anchor="middle">200</text>
<text x="142.30" y="333.70" font-size="18.6" text-anchor="middle"><tspan font-style="italic">T</tspan> (K)</text>
<text x="416.30" y="333.70" font-size="18.6" text-anchor="middle"><tspan font-style="italic">T</tspan> (K)</text>
<text transform="translate(47.7,243.1) rotate(-90)" font-size="18"><tspan font-style="italic">&#967;</tspan> (&#215; 10<tspan font-size="12" dy="-7">-3</tspan><tspan dy="7"> emu/ Oe mol)</tspan></text>
<text transform="translate(314.3,243.9) rotate(-90)" font-size="18"><tspan font-style="italic">&#967;</tspan> (&#215; 10<tspan font-size="12" dy="-7">-3</tspan><tspan dy="7"> emu/ Oe mol)</tspan></text>
<text x="79.30" y="263.60" font-size="14" text-anchor="start" style="fill:#ff0000"><tspan font-style="italic">H</tspan></text>
<rect x="96.5" y="254.6" width="1.4" height="8" fill="#ff0000"/><rect x="93.1" y="261.9" width="8.1" height="1.5" fill="#ff0000"/>
<text x="105.60" y="263.60" font-size="14" text-anchor="start" style="fill:#ff0000"><tspan font-style="italic">ab</tspan></text>
<text x="79.30" y="279.60" font-size="14" text-anchor="start" style="fill:#0000ff"><tspan font-style="italic">H</tspan></text>
<text x="92.40" y="279.60" font-size="14" text-anchor="start" style="fill:#0000ff">//</text>
<text x="104.00" y="279.60" font-size="14" text-anchor="start" style="fill:#0000ff"><tspan font-style="italic">ab</tspan></text>
<text x="152.80" y="260.40" font-size="13.5" text-anchor="start"><tspan font-style="italic">&#956;</tspan></text>
<text x="160.80" y="263.60" font-size="9.5" text-anchor="start">0</text>
<text x="166.60" y="260.40" font-size="13.5" text-anchor="start"><tspan font-style="italic">H</tspan></text>
<text x="182.00" y="260.40" font-size="13.5" text-anchor="start">=</text>
<text x="195.40" y="260.40" font-size="13.5" text-anchor="start">1</text>
<text x="204.60" y="260.40" font-size="13.5" text-anchor="start">T</text>
</svg>
</body></html>
